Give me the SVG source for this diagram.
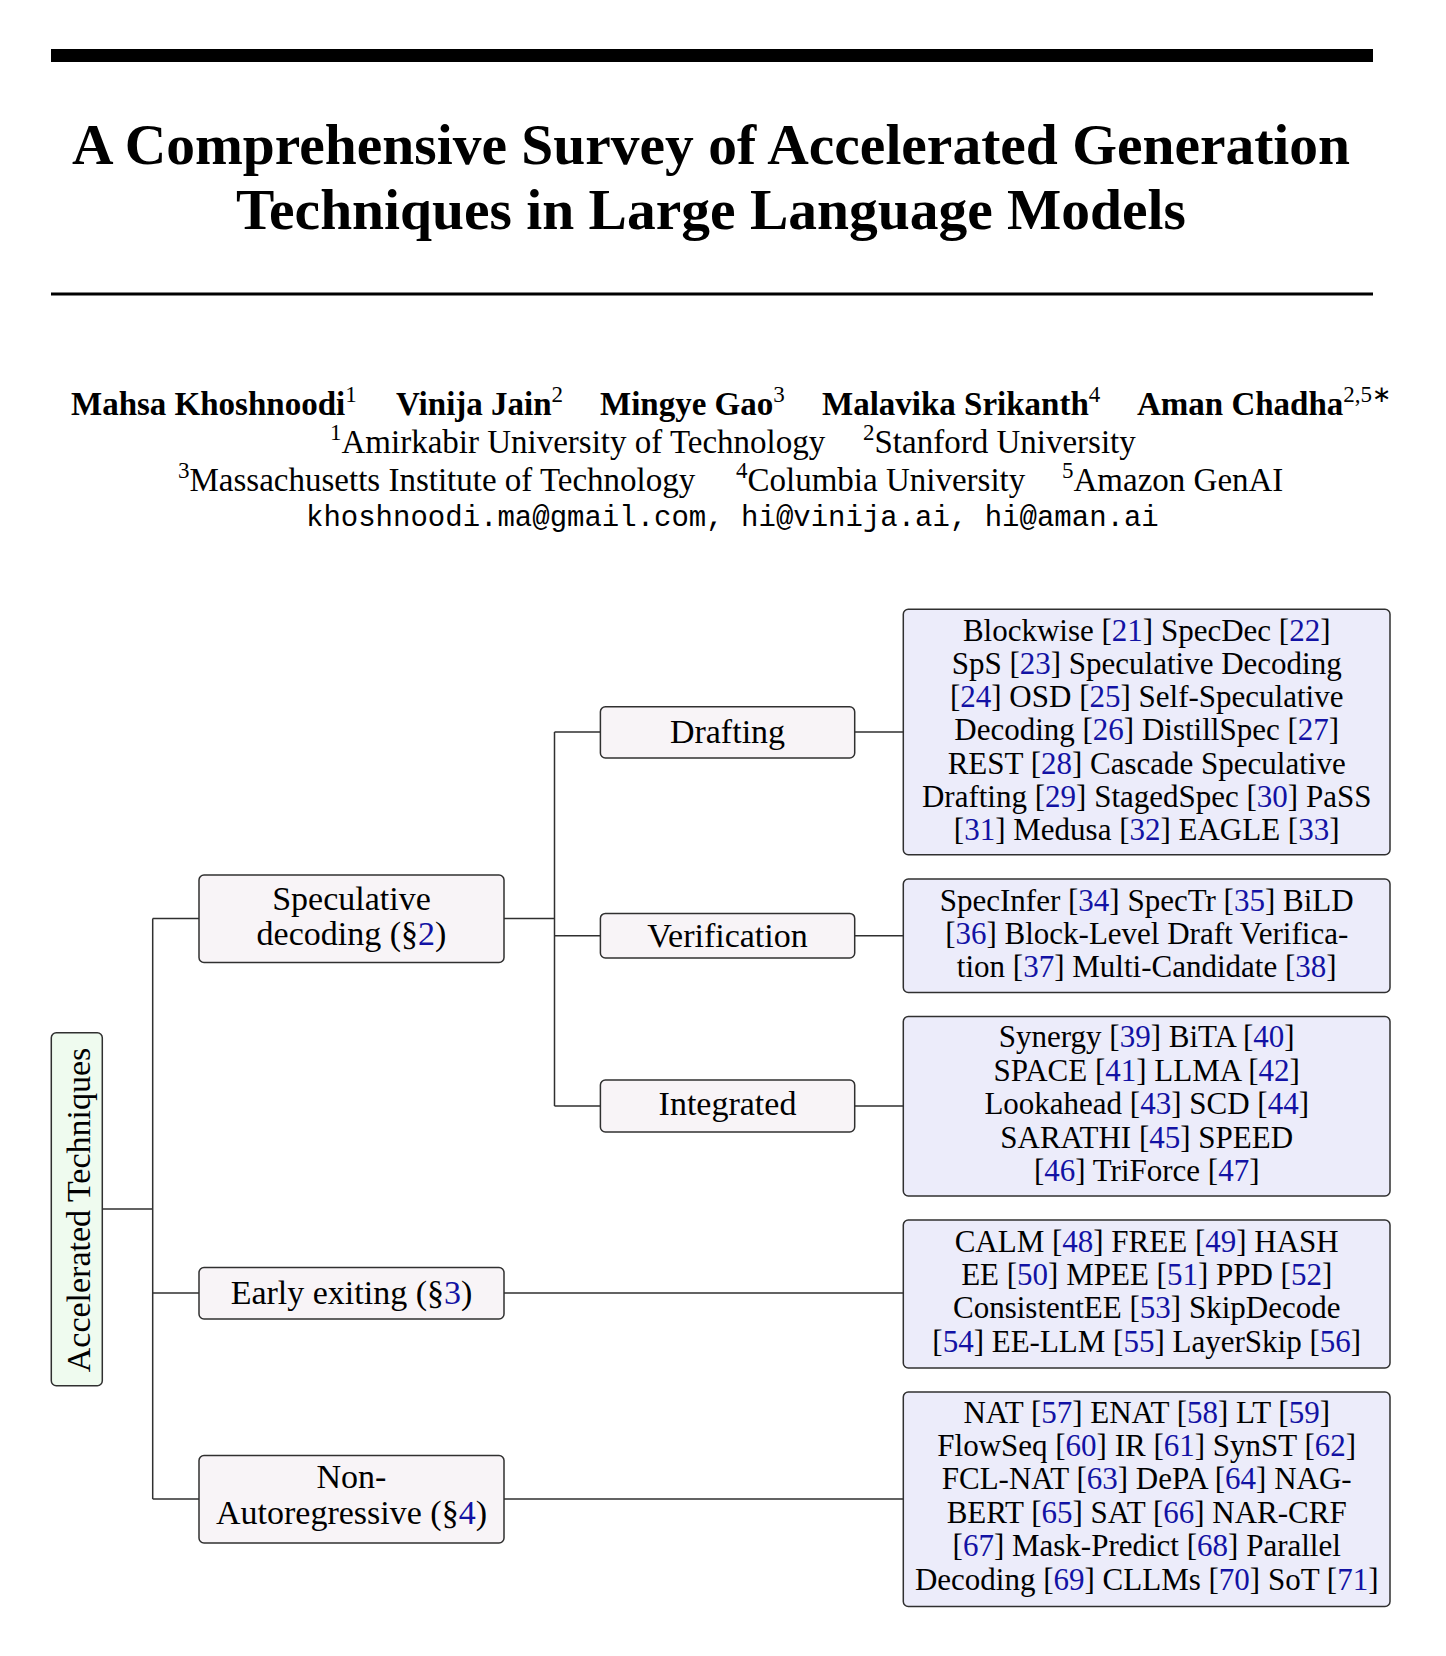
<svg xmlns="http://www.w3.org/2000/svg" width="1446" height="1656" viewBox="0 0 1446 1656">
<defs>
<style>
.t{font-family:"Liberation Serif","Times New Roman",serif;fill:#000}
.n{font-size:34px}
.l{font-size:31px}
.b{fill:#1212a4}
.mid{fill:#f8f4f7;stroke:#303030;stroke-width:1.5}
.leaf{fill:#ececfa;stroke:#303030;stroke-width:1.5}
.root{fill:#effbef;stroke:#303030;stroke-width:1.5}
.c{fill:none;stroke:#303030;stroke-width:1.5}
.h{font-family:"Liberation Serif","Times New Roman",serif;font-weight:bold;font-size:57.5px;fill:#000}
.au{font-family:"Liberation Serif","Times New Roman",serif;font-weight:bold;font-size:33px}
.af{font-family:"Liberation Serif","Times New Roman",serif;font-size:33px}
.sp{font-weight:normal;font-size:23px}
.m{font-family:"Liberation Mono","Courier New",monospace;font-size:29px}
</style>
</defs>
<rect width="1446" height="1656" fill="#fff"/>
<g id="header">
<rect x="51" y="49" width="1322" height="13" fill="#000"/>
<text class="h" x="711" y="164" text-anchor="middle">A Comprehensive Survey of Accelerated Generation</text>
<text class="h" x="711" y="229" text-anchor="middle">Techniques in Large Language Models</text>
<rect x="51" y="292.5" width="1322" height="3" fill="#000"/>
<text class="au" x="71" y="415">Mahsa Khoshnoodi<tspan class="sp" dy="-13">1</tspan></text>
<text class="au" x="396" y="415">Vinija Jain<tspan class="sp" dy="-13">2</tspan></text>
<text class="au" x="600" y="415">Mingye Gao<tspan class="sp" dy="-13">3</tspan></text>
<text class="au" x="822" y="415">Malavika Srikanth<tspan class="sp" dy="-13">4</tspan></text>
<text class="au" x="1137" y="415">Aman Chadha<tspan class="sp" dy="-13">2,5∗</tspan></text>
<text class="af" x="330" y="453"><tspan class="sp" dy="-13">1</tspan><tspan dy="13">Amirkabir University of Technology</tspan></text>
<text class="af" x="863" y="453"><tspan class="sp" dy="-13">2</tspan><tspan dy="13">Stanford University</tspan></text>
<text class="af" x="178" y="491"><tspan class="sp" dy="-13">3</tspan><tspan dy="13">Massachusetts Institute of Technology</tspan></text>
<text class="af" x="736" y="491"><tspan class="sp" dy="-13">4</tspan><tspan dy="13">Columbia University</tspan></text>
<text class="af" x="1062" y="491"><tspan class="sp" dy="-13">5</tspan><tspan dy="13">Amazon GenAI</tspan></text>
<text class="m" x="306" y="526">khoshnoodi.ma@gmail.com, hi@vinija.ai, hi@aman.ai</text>
</g>
<g id="connectors">
<path class="c" d="M102.3 1209H152.7M152.7 918.5V1499M152.7 918.5H199M152.7 1293H199M152.7 1499H199"/>
<path class="c" d="M504 918.5H554.5M554.5 732V1106M554.5 732H600.4M554.5 935.7H600.4M554.5 1106H600.4"/>
<path class="c" d="M854.7 732H903.3M854.7 935.7H903.3M854.7 1106H903.3M504 1293H903.3M504 1499H903.3"/>
</g>
<g id="root">
<rect class="root" x="51.3" y="1032.7" width="51" height="353" rx="5"/>
<text class="t n" transform="translate(90 1210) rotate(-90)" text-anchor="middle">Accelerated Techniques</text>
</g>
<g id="speculative">
<rect class="mid" x="199" y="875" width="305" height="87.5" rx="5"/>
<text class="t n" x="351.5" y="910" text-anchor="middle">Speculative</text>
<text class="t n" x="351.5" y="945" text-anchor="middle">decoding (§<tspan class="b">2</tspan>)</text>
</g>
<g id="early">
<rect class="mid" x="199" y="1267.5" width="305" height="51.5" rx="5"/>
<text class="t n" x="351.5" y="1304" text-anchor="middle">Early exiting (§<tspan class="b">3</tspan>)</text>
</g>
<g id="nar">
<rect class="mid" x="199" y="1455.5" width="305" height="87.5" rx="5"/>
<text class="t n" x="351.5" y="1488" text-anchor="middle">Non-</text>
<text class="t n" x="351.5" y="1524" text-anchor="middle">Autoregressive (§<tspan class="b">4</tspan>)</text>
</g>
<g id="drafting">
<rect class="mid" x="600.4" y="706.7" width="254.3" height="51.3" rx="5"/>
<text class="t n" x="727.5" y="743" text-anchor="middle">Drafting</text>
</g>
<g id="verification">
<rect class="mid" x="600.4" y="913.4" width="254.3" height="44.6" rx="5"/>
<text class="t n" x="727.5" y="947" text-anchor="middle">Verification</text>
</g>
<g id="integrated">
<rect class="mid" x="600.4" y="1080" width="254.3" height="52" rx="5"/>
<text class="t n" x="727.5" y="1115" text-anchor="middle">Integrated</text>
</g>
<g id="drafting-leaf">
<rect class="leaf" x="903.3" y="609.3" width="486.7" height="245.5" rx="5"/>
<text class="t l" x="1146.7" y="641" text-anchor="middle">Blockwise [<tspan class="b">21</tspan>] SpecDec [<tspan class="b">22</tspan>]</text>
<text class="t l" x="1146.7" y="674" text-anchor="middle">SpS [<tspan class="b">23</tspan>] Speculative Decoding</text>
<text class="t l" x="1146.7" y="707" text-anchor="middle">[<tspan class="b">24</tspan>] OSD [<tspan class="b">25</tspan>] Self-Speculative</text>
<text class="t l" x="1146.7" y="740" text-anchor="middle">Decoding [<tspan class="b">26</tspan>] DistillSpec [<tspan class="b">27</tspan>]</text>
<text class="t l" x="1146.7" y="773.5" text-anchor="middle">REST [<tspan class="b">28</tspan>] Cascade Speculative</text>
<text class="t l" x="1146.7" y="806.5" text-anchor="middle">Drafting [<tspan class="b">29</tspan>] StagedSpec [<tspan class="b">30</tspan>] PaSS</text>
<text class="t l" x="1146.7" y="839.5" text-anchor="middle">[<tspan class="b">31</tspan>] Medusa [<tspan class="b">32</tspan>] EAGLE [<tspan class="b">33</tspan>]</text>
</g>
<g id="verification-leaf">
<rect class="leaf" x="903.3" y="879" width="486.7" height="113.5" rx="5"/>
<text class="t l" x="1146.7" y="910.5" text-anchor="middle">SpecInfer [<tspan class="b">34</tspan>] SpecTr [<tspan class="b">35</tspan>] BiLD</text>
<text class="t l" x="1146.7" y="943.5" text-anchor="middle">[<tspan class="b">36</tspan>] Block-Level Draft Verifica-</text>
<text class="t l" x="1146.7" y="976.5" text-anchor="middle">tion [<tspan class="b">37</tspan>] Multi-Candidate [<tspan class="b">38</tspan>]</text>
</g>
<g id="integrated-leaf">
<rect class="leaf" x="903.3" y="1016.5" width="486.7" height="179.5" rx="5"/>
<text class="t l" x="1146.7" y="1047" text-anchor="middle">Synergy [<tspan class="b">39</tspan>] BiTA [<tspan class="b">40</tspan>]</text>
<text class="t l" x="1146.7" y="1080.5" text-anchor="middle">SPACE [<tspan class="b">41</tspan>] LLMA [<tspan class="b">42</tspan>]</text>
<text class="t l" x="1146.7" y="1114" text-anchor="middle">Lookahead [<tspan class="b">43</tspan>] SCD [<tspan class="b">44</tspan>]</text>
<text class="t l" x="1146.7" y="1147.5" text-anchor="middle">SARATHI [<tspan class="b">45</tspan>] SPEED</text>
<text class="t l" x="1146.7" y="1181" text-anchor="middle">[<tspan class="b">46</tspan>] TriForce [<tspan class="b">47</tspan>]</text>
</g>
<g id="early-leaf">
<rect class="leaf" x="903.3" y="1220" width="486.7" height="148" rx="5"/>
<text class="t l" x="1146.7" y="1251.7" text-anchor="middle">CALM [<tspan class="b">48</tspan>] FREE [<tspan class="b">49</tspan>] HASH</text>
<text class="t l" x="1146.7" y="1285" text-anchor="middle">EE [<tspan class="b">50</tspan>] MPEE [<tspan class="b">51</tspan>] PPD [<tspan class="b">52</tspan>]</text>
<text class="t l" x="1146.7" y="1318" text-anchor="middle">ConsistentEE [<tspan class="b">53</tspan>] SkipDecode</text>
<text class="t l" x="1146.7" y="1351.5" text-anchor="middle">[<tspan class="b">54</tspan>] EE-LLM [<tspan class="b">55</tspan>] LayerSkip [<tspan class="b">56</tspan>]</text>
</g>
<g id="nar-leaf">
<rect class="leaf" x="903.3" y="1392" width="486.7" height="214.5" rx="5"/>
<text class="t l" x="1146.7" y="1422.7" text-anchor="middle">NAT [<tspan class="b">57</tspan>] ENAT [<tspan class="b">58</tspan>] LT [<tspan class="b">59</tspan>]</text>
<text class="t l" x="1146.7" y="1456" text-anchor="middle">FlowSeq [<tspan class="b">60</tspan>] IR [<tspan class="b">61</tspan>] SynST [<tspan class="b">62</tspan>]</text>
<text class="t l" x="1146.7" y="1489" text-anchor="middle">FCL-NAT [<tspan class="b">63</tspan>] DePA [<tspan class="b">64</tspan>] NAG-</text>
<text class="t l" x="1146.7" y="1523" text-anchor="middle">BERT [<tspan class="b">65</tspan>] SAT [<tspan class="b">66</tspan>] NAR-CRF</text>
<text class="t l" x="1146.7" y="1556" text-anchor="middle">[<tspan class="b">67</tspan>] Mask-Predict [<tspan class="b">68</tspan>] Parallel</text>
<text class="t l" x="1146.7" y="1589.5" text-anchor="middle">Decoding [<tspan class="b">69</tspan>] CLLMs [<tspan class="b">70</tspan>] SoT [<tspan class="b">71</tspan>]</text>
</g>
</svg>
